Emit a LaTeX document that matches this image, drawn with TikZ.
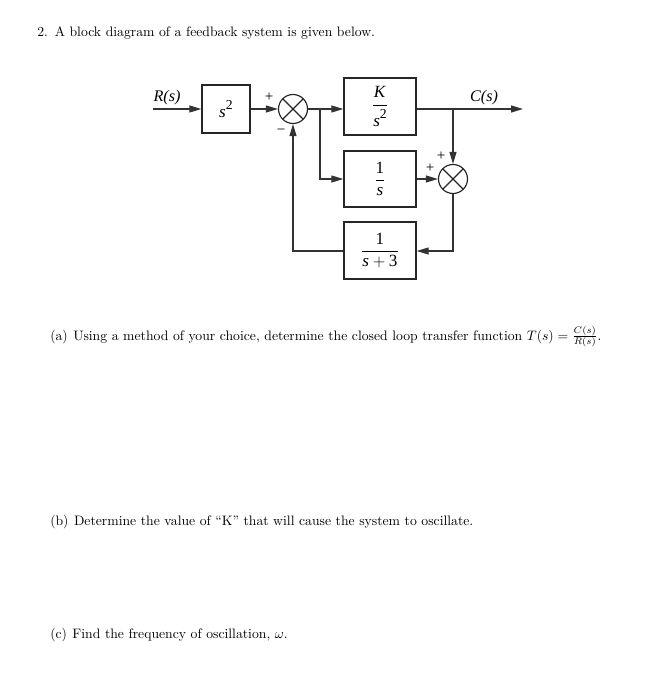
\documentclass[tikz,border=0pt]{standalone}
\usepackage{amsmath}
\usepackage{fontspec}
\newfontfamily\tms{Liberation Serif}
\usetikzlibrary{arrows.meta}
\newcommand\I[1]{\textit{#1}}
\newcommand\T[1]{\text{#1}}
\newcommand\sq{\I{s}\raisebox{0.45em}{\fontsize{10}{10}\selectfont 2}}
\newcommand\pxu{0.73pt}
\begin{document}
\begin{tikzpicture}[x=\pxu,y=-\pxu,
  wire/.style={line width=0.8pt,draw=black!80},
  arr/.style={wire,-{Triangle[length=12*\pxu,width=7*\pxu]}},
  blk/.style={draw=black!85,line width=1pt,inner sep=0pt,
    font=\tms\fontsize{12.5}{14}\selectfont},
  sumj/.style={draw=black!85,circle,line width=0.85pt,minimum size=29*\pxu,inner sep=0pt,
    path picture={\draw[line width=0.85pt,draw=black!85]
      (path picture bounding box.south west) -- (path picture bounding box.north east)
      (path picture bounding box.north west) -- (path picture bounding box.south east);}},
  lbl/.style={inner sep=0pt,font=\tms\fontsize{11.8}{14}\selectfont\itshape},
  sgn/.style={inner sep=0pt,font=\tms\fontsize{11}{12}\selectfont},
  txt/.style={inner sep=0pt,anchor=base west}]
\path[use as bounding box] (0,0) rectangle (658,694);

% question text
\node[txt] (title) at (37,37) {2.\hspace{5pt}A block diagram of a feedback system is given below.};
\node[txt] (qa) at (50,340) {(a)\hspace{4pt}Using a method of your choice, determine the closed loop transfer function $T(s)=\frac{C(s)}{R(s)}$.};
\node[txt] (qb) at (50,525) {(b)\hspace{4pt}Determine the value of ``K'' that will cause the system to oscillate.};
\node[txt] (qc) at (50,638) {(c)\hspace{4pt}Find the frequency of oscillation, $\omega$.};

% diagram
\node[lbl] (rl) at (167,98) {R(s)};
\node[lbl] (cl) at (484,98) {C(s)};
\coordinate (in) at (153,109);
\coordinate (out) at (523,109);
\node[blk,minimum width=48*\pxu,minimum height=48*\pxu] (g1) at (226,109) {\raisebox{-2pt}{\sq}};
\node[sumj] (s1) at (293,109) {};
\node[blk,minimum width=72*\pxu,minimum height=57*\pxu] (g2) at (380,106.5) {\raisebox{-2pt}{$\dfrac{\text{\I{K}}}{\text{\rule{0pt}{1.1em}\sq}}$}};
\node[blk,minimum width=72*\pxu,minimum height=56*\pxu] (g3) at (380,179) {$\dfrac{\T{1}}{\I{s}}$};
\node[sumj] (s2) at (453,179) {};
\node[blk,minimum width=72*\pxu,minimum height=57*\pxu] (g4) at (380,250.5) {$\dfrac{\T{1}}{\I{s}+\T{3}}$};
\coordinate (b1) at (320,109);
\coordinate (b2) at (453,109);
\coordinate (f1) at (453,251);
\coordinate (f2) at (293,251);

\draw[arr] (in) -- (g1.west |- in);
\draw[arr] (g1.east |- s1) -- (s1.west);
\draw[arr] (s1.east) -- (g2.west |- s1);
\draw[arr] (b1) |- (g3.west);
\draw[arr] (g2.east |- s1) -- (out);
\draw[arr] (b2) -- (s2.north);
\draw[arr] (g3.east) -- (s2.west);
\draw[arr] (s2.south) |- (g4.east |- f1);
\draw[arr] (g4.west |- f2) -| (s1.south);

\node[sgn] (p1) at (269,97) {+};
\node[sgn] (m1) at (281,132) {−};
\node[sgn] (p2) at (441,156) {+};
\node[sgn] (p3) at (430,168) {+};
\end{tikzpicture}
\end{document}
